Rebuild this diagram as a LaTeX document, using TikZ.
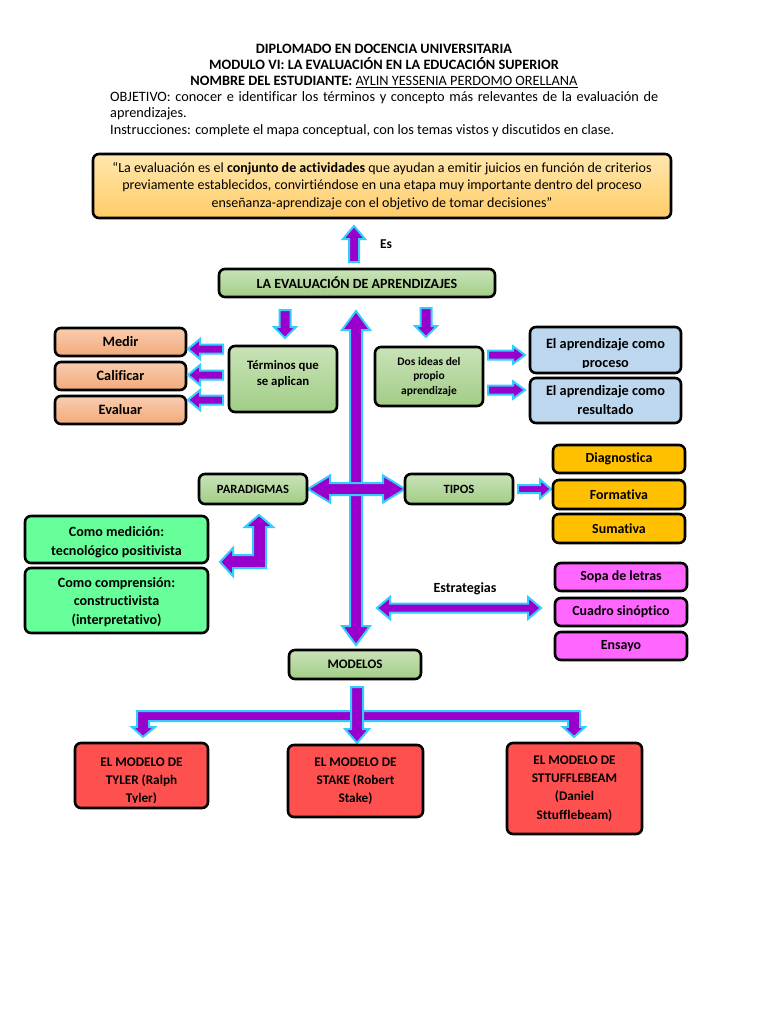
\documentclass[tikz,border=0pt]{standalone}
\usepackage{fontspec}
\setmainfont{Carlito}[Ligatures=NoCommon]
\definecolor{apurple}{HTML}{9900CC}
\definecolor{acyan}{HTML}{33CCFF}
\definecolor{qtop}{HTML}{FFE7AE}
\definecolor{qbot}{HTML}{FFCC66}
\definecolor{gtop}{HTML}{C9E3B8}
\definecolor{gbot}{HTML}{A2CD86}
\definecolor{stop}{HTML}{F9CDB0}
\definecolor{sbot}{HTML}{F2A97A}
\definecolor{lblue}{HTML}{BDD7EE}
\definecolor{gold}{HTML}{FFC000}
\definecolor{mint}{HTML}{66FF99}
\definecolor{pink}{HTML}{FF66FF}
\definecolor{tomato}{HTML}{FF5050}
\tikzset{
  barrow/.style={fill=apurple, draw=acyan, line width=2pt, line join=miter},
  cbox/.style={draw=black, line width=2.6pt, rounded corners=6pt, align=center, inner sep=0pt, font=\bfseries},
  greenbox/.style={cbox, top color=gtop, bottom color=gbot},
  salmonbox/.style={cbox, top color=stop, bottom color=sbot, font=\fontsize{14.3}{17}\selectfont\bfseries},
  bluebox/.style={cbox, fill=lblue, font=\fontsize{14.3}{19}\selectfont\bfseries},
  goldbox/.style={cbox, fill=gold, font=\fontsize{13.9}{17}\selectfont\bfseries},
  mintbox/.style={cbox, fill=mint, font=\fontsize{14.1}{18.5}\selectfont\bfseries},
  pinkbox/.style={cbox, fill=pink, font=\fontsize{13.9}{17}\selectfont\bfseries},
  redbox/.style={cbox, fill=tomato, font=\fontsize{13.2}{18.3}\selectfont\bfseries},
  lbl/.style={inner sep=0pt, font=\fontsize{13.5}{16}\selectfont\bfseries},
  intext/.style={inner sep=0pt, align=center},
}
% box: name, x1, y1, x2, y2, style, text
\newcommand\CBox[7]{\node[#6, minimum width={#4-#2}, minimum height={#5-#3}] (#1) at ({(#2+#4)/2},{(#3+#5)/2}) {#7};}
% single block arrow: x, y (tail), angle, length, shaft half, head half, head length
\newcommand\BArrow[7]{\filldraw[barrow, shift={(#1,#2)}, rotate=#3] (0,-#5) -- ({#4-#7},-#5) -- ({#4-#7},-#6) -- (#4,0) -- ({#4-#7},#6) -- ({#4-#7},#5) -- (0,#5) -- cycle;}
% double block arrow: x, y (first tip), angle, length, shaft half, head half, head length
\newcommand\DArrow[7]{\filldraw[barrow, shift={(#1,#2)}, rotate=#3] (0,0) -- (#7,#6) -- (#7,#5) -- ({#4-#7},#5) -- ({#4-#7},#6) -- (#4,0) -- ({#4-#7},-#6) -- ({#4-#7},-#5) -- (#7,-#5) -- (#7,-#6) -- cycle;}
\begin{document}
\begin{tikzpicture}[x=1pt,y=-1pt]
\useasboundingbox (0,0) rectangle (768,1024);
\fill[white] (0,0) rectangle (768,1024);

% header
\node[inner sep=0pt, align=center, font=\fontsize{14.3}{16}\selectfont] (head) at (384,66)
  {\bfseries DIPLOMADO EN DOCENCIA UNIVERSITARIA\\
   \bfseries MODULO VI: LA EVALUACIÓN EN LA EDUCACIÓN SUPERIOR\\
   \bfseries NOMBRE DEL ESTUDIANTE: \mdseries\underline{AYLIN YESSENIA PERDOMO ORELLANA}};
\node[inner sep=0pt, anchor=north west, text width=548pt, align=justify, font=\fontsize{14.3}{16.5}\selectfont] (obj) at (110,91)
  {OBJETIVO: conocer e identificar los términos y concepto más relevantes de la evaluación de aprendizajes.\par
   Instrucciones: complete el mapa conceptual, con los temas vistos y discutidos en clase.};

% quote
\CBox{quote}{93}{154}{671}{218}{cbox, top color=qtop, bottom color=qbot, font=\fontsize{14}{17.5}\selectfont}
  {“La evaluación es el \textbf{conjunto de actividades} que ayudan a emitir juicios en función de criterios\\
   previamente establecidos, convirtiéndose en una etapa muy importante dentro del proceso\\
   enseñanza-aprendizaje con el objetivo de tomar decisiones”}

\BArrow{354}{262}{90}{36}{5}{11}{13}
\node[lbl] (es) at (386,244) {Es};

\CBox{eval}{219}{269}{495}{297}{greenbox, font=\fontsize{14}{16}\selectfont\bfseries}{LA EVALUACIÓN DE APRENDIZAJES}

\BArrow{285}{310}{-90}{28}{5.5}{11}{11}
\BArrow{426}{308}{-90}{29}{5.5}{11}{11}

% left side
\CBox{medir}{55}{328}{186}{356}{salmonbox}{Medir}
\CBox{calif}{55}{362}{186}{390}{salmonbox}{Calificar}
\CBox{evaluar}{55}{396}{186}{424}{salmonbox}{Evaluar}
\BArrow{223}{349}{180}{35}{4.5}{10}{12}
\BArrow{223}{375}{180}{35}{4.5}{10}{12}
\BArrow{223}{400}{180}{35}{4.5}{10}{12}
\CBox{term}{229}{346}{337}{412}{greenbox}{}
\node[intext, font=\fontsize{12.8}{16.5}\selectfont\bfseries] (termt) at (283,374) {Términos que\\se aplican};

% right side
\CBox{dos}{375}{347}{483}{406}{greenbox, font=\fontsize{11.5}{14.5}\selectfont\bfseries}{Dos ideas del\\propio\\aprendizaje}
\BArrow{488}{355}{0}{37}{4.5}{8.7}{12}
\BArrow{488}{390}{0}{37}{4.5}{8.7}{12}
\CBox{proc}{530}{327}{681}{373}{bluebox}{}
\begin{scope}
  \clip (530,327) rectangle (681,367.5);
  \node[intext, font=\fontsize{14.3}{19}\selectfont\bfseries] (proct) at (605.5,354) {El aprendizaje como\\proceso};
\end{scope}
\CBox{res}{530}{378}{681}{423}{bluebox}{El aprendizaje como\\resultado}

% central axis
\DArrow{356}{311}{-90}{334}{6}{14}{19}
\DArrow{308}{489}{0}{97}{6}{13.5}{22}
\CBox{parad}{199}{474}{307}{504}{greenbox, font=\fontsize{12.6}{15}\selectfont\bfseries}{PARADIGMAS}
\CBox{tipos}{405}{474}{513}{504}{greenbox, font=\fontsize{12.6}{15}\selectfont\bfseries}{TIPOS}
\BArrow{518}{489}{0}{33}{4}{9.5}{11}
\CBox{diag}{553}{445}{685}{473}{goldbox}{\raisebox{-1.5pt}{Diagnostica}}
\CBox{form}{553}{480}{685}{509}{goldbox}{Formativa}
\CBox{suma}{553}{514}{685}{543}{goldbox}{Sumativa}

% paradigms
\filldraw[barrow] (259,515) -- (273,527) -- (266,527) -- (266,568) -- (233,568) -- (233,576) -- (220,562) -- (233,548) -- (233,555) -- (253,555) -- (253,527) -- (245,527) -- cycle;
\CBox{medic}{25}{516}{208}{563}{mintbox}{}
\node[intext, font=\fontsize{14.1}{18.5}\selectfont\bfseries] (medict) at (116.5,542) {Como medición:\\tecnológico positivista};
\CBox{compr}{25}{568}{208}{633}{mintbox}{}
\node[intext, font=\fontsize{14.1}{18.5}\selectfont\bfseries] (comprt) at (116.5,602) {Como comprensión:\\constructivista\\(interpretativo)};

% strategies
\node[lbl, font=\fontsize{14}{16}\selectfont\bfseries] (estr) at (465,589) {Estrategias};
\DArrow{377}{608}{0}{164}{4.5}{11}{13}
\CBox{sopa}{555}{563}{687}{591}{pinkbox}{Sopa de letras}
\CBox{cuadro}{555}{598}{687}{626}{pinkbox}{Cuadro sinóptico}
\CBox{ensayo}{555}{632}{687}{660}{pinkbox}{Ensayo}

% models
\CBox{modelos}{289}{650}{421}{679}{greenbox, font=\fontsize{13}{15}\selectfont\bfseries}{MODELOS}
\filldraw[barrow] (143,737) -- (155,727) -- (149,727) -- (149,721) -- (568,721) -- (568,727) -- (563,727) -- (574,737) -- (585,727) -- (580,727) -- (580,711) -- (137,711) -- (137,727) -- (132,727) -- cycle;
\BArrow{357}{687}{-90}{56}{6}{12}{14}
\CBox{tyler}{75}{743}{208}{808}{redbox}{}
\begin{scope}
  \clip (75,743) rectangle (208,802.5);
  \node[intext, font=\fontsize{13.2}{18.3}\selectfont\bfseries] (tylert) at (141.5,781) {EL MODELO DE\\TYLER (Ralph\\Tyler)};
\end{scope}
\CBox{stake}{288}{745}{423}{817}{redbox}{EL MODELO DE\\STAKE (Robert\\Stake)}
\CBox{stuff}{507}{743}{642}{834}{redbox}{EL MODELO DE\\STTUFFLEBEAM\\(Daniel\\Sttufflebeam)}
\end{tikzpicture}
\end{document}
